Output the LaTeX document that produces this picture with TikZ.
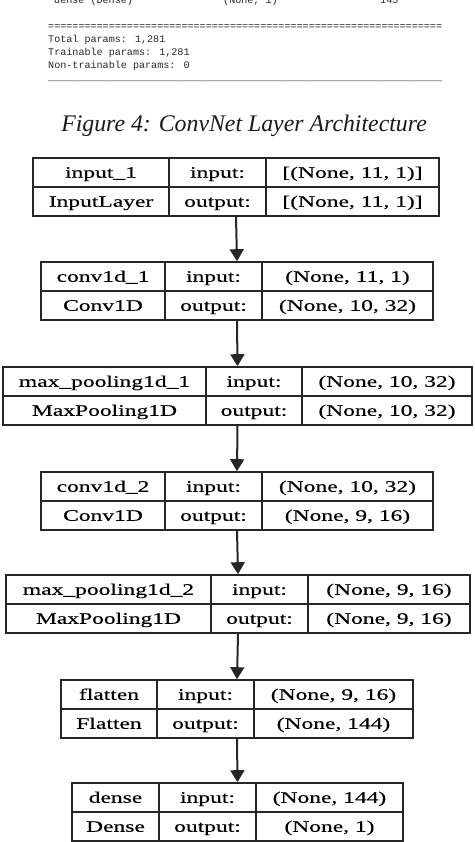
\documentclass[tikz,border=0pt]{standalone}
\usepackage{fontspec}
\setmainfont{Liberation Serif}
\newfontfamily\cellfont[FakeStretch=1.47,FakeBold=0.4]{Liberation Serif}
\newfontfamily\logfont{Liberation Mono}
\usetikzlibrary{arrows.meta}
\newcommand{\repchar}[1]{\foreach \i in {1,...,65}{#1}}
\begin{document}
\begin{tikzpicture}[x=1pt,y=-1pt,
	logline/.style={anchor=base west,inner sep=0,text=black!85,font=\logfont\fontsize{10.1}{12}\selectfont},
	layerbox/.style={draw=black!85,line width=1.6pt,inner sep=0,minimum height=58pt},
	celltext/.style={inner sep=0,text height=10.5pt,text depth=0pt,font=\cellfont\fontsize{16}{18}\selectfont},
	flow/.style={line width=2pt,draw=black!85,-{Triangle[width=14pt,length=12pt]}}]
\useasboundingbox (0,0) rectangle (474,842);
% end of the model summary printout
\node[logline] (lastrow) at (54,3.5) {dense (Dense)};
\node[logline] (lastshape) at (223,3.5) {(None, 1)};
\node[logline] (lastparams) at (380,3.5) {145};
\node[logline] (eqline) at (48,29.5) {\repchar{=}};
\node[logline] (total) at (48,42.5) {Total params: 1,281};
\node[logline] (train) at (48,55.5) {Trainable params: 1,281};
\node[logline] (nontrain) at (48,68.5) {Non-trainable params: 0};
\node[logline] (usline) at (48,81) {\repchar{\_}};
\node[anchor=base,inner sep=0,text=black!90,font=\fontsize{23.8}{28}\selectfont\itshape] (caption) at (244,131.5) {Figure 4: ConvNet Layer Architecture};
% layers: name/top/x0/x1/x2/x3/layer name/class/input shape/output shape
\foreach \nm/\t/\xa/\xb/\xc/\xd/\ma/\mb/\sa/\sb in {
	in1/158/33/169/266/439/input\_1/InputLayer/{[(None, 11, 1)]}/{[(None, 11, 1)]},
	cv1/262/41/165/262/433/conv1d\_1/Conv1D/{(None, 11, 1)}/{(None, 10, 32)},
	mp1/367/3/206/302/472/max\_pooling1d\_1/MaxPooling1D/{(None, 10, 32)}/{(None, 10, 32)},
	cv2/472/41/165/262/433/conv1d\_2/Conv1D/{(None, 10, 32)}/{(None, 9, 16)},
	mp2/575/6/211/308/470/max\_pooling1d\_2/MaxPooling1D/{(None, 9, 16)}/{(None, 9, 16)},
	fl/680/61/157/254/413/flatten/Flatten/{(None, 9, 16)}/{(None, 144)},
	de/783/72/159/256/403/dense/Dense/{(None, 144)}/{(None, 1)}}{
	\node[layerbox,minimum width={(\xd-\xa)*1pt}] (\nm) at ({(\xa+\xd)/2},{\t+29}) {};
	\draw[black!85,line width=1.6pt] (\xb,\t) -- (\xb,\t+58) (\xc,\t) -- (\xc,\t+58) (\xa,\t+29) -- (\xd,\t+29);
	\node[celltext] (\nm-name) at ({(\xa+\xb)/2},{\t+14.5}) {\ma};
	\node[celltext] (\nm-class) at ({(\xa+\xb)/2},{\t+43.5}) {\mb};
	\node[celltext] (\nm-in) at ({(\xb+\xc)/2},{\t+14.5}) {input:};
	\node[celltext] (\nm-out) at ({(\xb+\xc)/2},{\t+43.5}) {output:};
	\node[celltext] (\nm-ins) at ({(\xc+\xd)/2},{\t+14.5}) {\sa};
	\node[celltext] (\nm-outs) at ({(\xc+\xd)/2},{\t+43.5}) {\sb};
}
\draw[flow] (in1.south) -- (cv1.north);
\draw[flow] (cv1.south) -- (mp1.north);
\draw[flow] (mp1.south) -- (cv2.north);
\draw[flow] (cv2.south) -- (mp2.north);
\draw[flow] (mp2.south) -- (fl.north);
\draw[flow] (fl.south) -- (de.north);
\end{tikzpicture}
\end{document}
